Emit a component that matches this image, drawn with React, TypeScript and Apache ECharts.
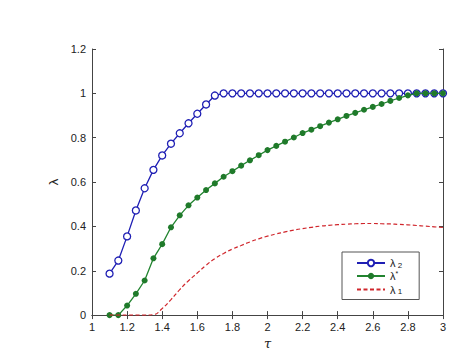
import React, { useEffect, useRef } from "react";
import * as echarts from "echarts";

const taus = [1.1, 1.15, 1.2, 1.25, 1.3, 1.35, 1.4, 1.45, 1.5, 1.55, 1.6, 1.65, 1.7, 1.75, 1.8, 1.85, 1.9, 1.95, 2.0, 2.05, 2.1, 2.15, 2.2, 2.25, 2.3, 2.35, 2.4, 2.45, 2.5, 2.55, 2.6, 2.65, 2.7, 2.75, 2.8, 2.85, 2.9, 2.95, 3.0];

const lambda2 = [0.187, 0.246, 0.355, 0.472, 0.572, 0.655, 0.72, 0.773, 0.82, 0.865, 0.908, 0.95, 0.99, 1, 1, 1, 1, 1, 1, 1, 1, 1, 1, 1, 1, 1, 1, 1, 1, 1, 1, 1, 1, 1, 1, 1, 1, 1, 1];

const lambdaStar = [0, 0, 0.043, 0.096, 0.156, 0.256, 0.32, 0.396, 0.45, 0.495, 0.53, 0.564, 0.594, 0.624, 0.649, 0.674, 0.698, 0.721, 0.744, 0.763, 0.782, 0.801, 0.821, 0.836, 0.852, 0.868, 0.883, 0.898, 0.912, 0.926, 0.939, 0.952, 0.966, 0.979, 0.991, 1, 1, 1, 1];

const lambda1 = [0, 0, 0, 0, 0, 0.002, 0.03, 0.07, 0.115, 0.155, 0.19, 0.225, 0.255, 0.278, 0.298, 0.314, 0.33, 0.344, 0.356, 0.366, 0.375, 0.383, 0.39, 0.396, 0.401, 0.405, 0.408, 0.41, 0.412, 0.413, 0.413, 0.412, 0.411, 0.409, 0.407, 0.404, 0.401, 0.398, 0.395];

const pairs = (ys: number[]) => taus.map((t, i) => [t, ys[i]]);

const FONT = "Liberation Sans";
const AXIS_COLOR = "#444";

export default function App() {
  const ref = useRef<HTMLDivElement>(null);
  useEffect(() => {
    if (!ref.current) return;
    const chart = echarts.init(ref.current, undefined, { renderer: "svg" });
    const tickStyle = { show: true, inside: true, length: 4, lineStyle: { color: AXIS_COLOR } };
    const lineStyle = { show: true, lineStyle: { color: AXIS_COLOR, width: 1 } };
    chart.setOption({
      animation: false,
      backgroundColor: "#fff",
      textStyle: { fontFamily: FONT },
      grid: { left: 92, right: 31, top: 49, bottom: 36 },
      xAxis: [
        {
          type: "value",
          min: 1,
          max: 3,
          interval: 0.2,
          axisLine: lineStyle,
          axisTick: tickStyle,
          splitLine: { show: false },
          axisLabel: { color: "#222", fontSize: 11, fontFamily: FONT, margin: 6 },
          name: "τ",
          nameLocation: "middle",
          nameGap: 21,
          nameTextStyle: { color: "#222", fontSize: 13, fontStyle: "italic", fontFamily: "DejaVu Serif" },
        },
        {
          type: "value",
          position: "top",
          min: 1,
          max: 3,
          interval: 0.2,
          axisLine: lineStyle,
          axisTick: tickStyle,
          axisLabel: { show: false },
          splitLine: { show: false },
        },
      ],
      yAxis: [
        {
          type: "value",
          min: 0,
          max: 1.2,
          interval: 0.2,
          axisLine: lineStyle,
          axisTick: tickStyle,
          splitLine: { show: false },
          axisLabel: { color: "#222", fontSize: 11, fontFamily: FONT, margin: 6 },
          name: "λ",
          nameLocation: "middle",
          nameGap: 23,
          nameRotate: 90,
          nameTextStyle: { color: "#222", fontSize: 13, fontFamily: FONT },
        },
        {
          type: "value",
          position: "right",
          min: 0,
          max: 1.2,
          interval: 0.2,
          axisLine: lineStyle,
          axisTick: tickStyle,
          axisLabel: { show: false },
          splitLine: { show: false },
        },
      ],
      legend: {
        orient: "vertical",
        left: 342,
        top: 252,
        padding: [4, 17, 4, 14],
        itemGap: 1,
        itemWidth: 28,
        itemHeight: 8,
        backgroundColor: "#fff",
        borderColor: "#555",
        borderWidth: 1,
        borderRadius: 0,
        data: [
          { name: "λ2" },
          { name: "λ*" },
          { name: "λ1", itemStyle: { opacity: 0 } },
        ],
        formatter: (name: string) => {
          if (name === "λ2") return "{m|λ}{s| 2}";
          if (name === "λ*") return "{m|λ}{p|*}";
          return "{m|λ}{s| 1}";
        },
        textStyle: {
          fontFamily: FONT,
          color: "#222",
          rich: {
            m: { fontSize: 11, fontFamily: FONT, color: "#222", lineHeight: 12, verticalAlign: "middle" },
            s: { fontSize: 8, fontFamily: FONT, color: "#222", lineHeight: 8, padding: [5, 0, 0, 0], verticalAlign: "bottom" },
            p: { fontSize: 7, fontFamily: FONT, color: "#222", lineHeight: 12, verticalAlign: "top" },
          },
        },
      },
      series: [
        {
          name: "λ2",
          type: "line",
          data: pairs(lambda2),
          symbol: "circle",
          symbolSize: 7,
          lineStyle: { color: "#1f1fb4", width: 1.3 },
          itemStyle: { color: "#fff", borderColor: "#1f1fb4", borderWidth: 1.3 },
          z: 2,
        },
        {
          name: "λ*",
          type: "line",
          data: pairs(lambdaStar),
          symbol: "circle",
          symbolSize: 6,
          lineStyle: { color: "#228430", width: 1.3 },
          itemStyle: { color: "#1f7a2a", borderColor: "#1f7a2a", borderWidth: 0 },
          z: 3,
        },
        {
          name: "λ1",
          type: "line",
          data: pairs(lambda1),
          smooth: true,
          showSymbol: false,
          symbol: "none",
          lineStyle: { color: "#d0262c", width: 1.2, type: [4, 2.5] },
          itemStyle: { color: "#d0262c" },
          z: 4,
        },
      ],
    });
    return () => chart.dispose();
  }, []);
  return (
    <div
      ref={ref}
      style={{ position: "fixed", left: 0, top: 0, width: 474, height: 355, background: "#fff" }}
    />
  );
}
